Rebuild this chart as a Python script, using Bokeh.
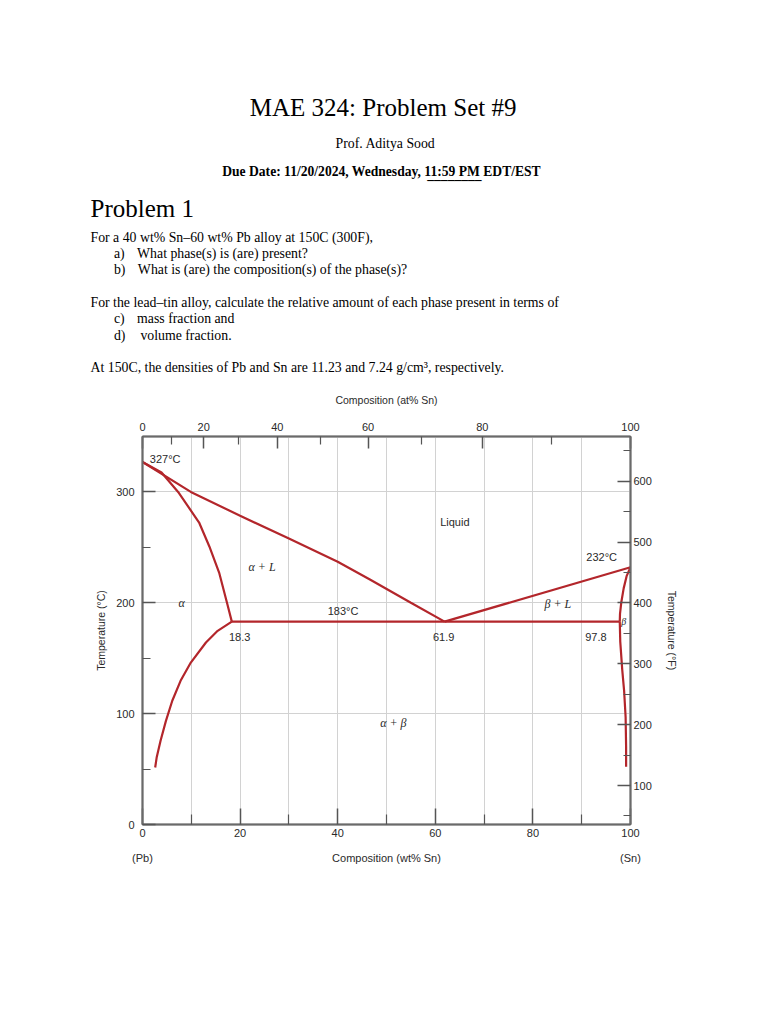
from bokeh.plotting import figure
from bokeh.models import Range1d, LinearAxis, FixedTicker, CustomJSTickFormatter, Title
from bokeh.embed import file_html
from bokeh.resources import INLINE
from bokeh.core.properties import value

# ---------------- data (Pb–Sn phase diagram, wt% Sn vs temperature °C) ----------------
liquidus_left_wt = [0, 9.9, 20, 30, 40, 46.6, 55, 61.9]
liquidus_left_T = [327, 300, 278.5, 258, 237, 221, 200, 183]

solidus_alpha_wt = [0, 3.9, 7.3, 11.6, 13.7, 15.7, 17.3, 18.3]
solidus_alpha_T = [327, 317.5, 300, 272.4, 250.8, 227.3, 200.3, 183]

solvus_alpha_wt = [18.3, 15.4, 13.0, 9.9, 7.8, 6.1, 4.8, 3.7, 2.9, 2.6]
solvus_alpha_T = [183, 174.7, 164.2, 146.1, 129.6, 111.6, 93.5, 75.5, 60.4, 51.4]

liquidus_right_wt = [61.9, 100]
liquidus_right_T = [183, 232]

solidus_beta_wt = [100, 99.2, 98.6, 98.1, 97.85, 97.8]
solidus_beta_T = [232, 224, 213, 200, 190, 183]

solvus_beta_wt = [97.8, 97.9, 98.3, 98.7, 99.0, 99.1, 99.1]
solvus_beta_T = [183, 165, 140, 120, 97, 70, 52]

eutectic_wt = [18.3, 61.9, 97.8]
eutectic_T = 183

wt_ticks = [0, 20, 40, 60, 80, 100]
wt_minor = [10, 30, 50, 70, 90]
c_ticks = [0, 100, 200, 300]
c_minor = [50, 150, 250]
f_ticks = [100, 200, 300, 400, 500, 600]
f_minor = [50, 150, 250, 350, 450, 550, 650]
at_ticks = [0, 20, 40, 60, 80, 100]
at_minor = [10, 30, 50, 70, 90]
M_SN = 118.71
M_PB = 207.2


def at_to_wt(a):
    return 100.0 * a * M_SN / (a * M_SN + (100.0 - a) * M_PB)


CURVE = "#b3262b"
AXIS = "#6a6a6a"
TXT = "#2a2a2a"
SANS = "Liberation Sans"
SERIF = "Liberation Serif"

# ---------------- figure geometry ----------------
W, H = 768, 900
FL, FR, FT, FB = 142, 630, 436, 824          # frame edges in page pixels

p = figure(width=W, height=H, x_range=Range1d(0, 100), y_range=Range1d(0, 350),
           toolbar_location=None, output_backend="svg",
           min_border_left=FL, min_border_right=W - FR, min_border_top=FT,
           min_border_bottom=H - FB)
p.background_fill_color = "white"
p.border_fill_color = "white"
p.outline_line_color = AXIS
p.outline_line_width = 1.5
p.extra_y_ranges = {"F": Range1d(36, 673.5)}

p.xgrid.ticker = FixedTicker(ticks=[10, 20, 30, 40, 50, 60, 70, 80, 90])
p.ygrid.ticker = FixedTicker(ticks=[100, 200, 300])
p.grid.grid_line_color = "#d2d2d2"
p.grid.grid_line_width = 1


# ---------------- axes ----------------
def style_axis(ax, tin, mtin, standoff, size="11px"):
    ax.axis_line_color = AXIS
    ax.axis_line_width = 2
    ax.major_tick_line_color = "#555555"
    ax.minor_tick_line_color = "#555555"
    ax.major_tick_line_width = 1.5
    ax.minor_tick_line_width = 1.2
    ax.major_tick_in = tin
    ax.major_tick_out = 0
    ax.minor_tick_in = mtin
    ax.minor_tick_out = 0
    ax.major_label_standoff = standoff
    ax.major_label_text_font = SANS
    ax.major_label_text_font_size = size
    ax.major_label_text_color = TXT
    ax.axis_label_text_font = SANS
    ax.axis_label_text_font_size = "10.5px"
    ax.axis_label_text_font_style = "normal"
    ax.axis_label_text_color = TXT


xb = p.xaxis[0]
xb.ticker = FixedTicker(ticks=wt_ticks, minor_ticks=wt_minor)
style_axis(xb, 16, 10, 4)

xb2 = LinearAxis(ticker=FixedTicker(ticks=[0, 50, 100]))
style_axis(xb2, 0, 0, 12)
xb2.axis_line_color = None
xb2.major_tick_line_color = None
xb2.minor_tick_line_color = None
xb2.major_label_overrides = {0: "(Pb)", 50: "Composition (wt% Sn)", 100: "(Sn)"}
p.add_layout(xb2, "below")

xt = LinearAxis(ticker=FixedTicker(ticks=[at_to_wt(a) for a in at_ticks],
                                   minor_ticks=[at_to_wt(a) for a in at_minor]),
                formatter=CustomJSTickFormatter(code="""
                    const a = tick / 118.71, b = (100 - tick) / 207.2;
                    return String(Math.round(100 * a / (a + b)));
                """),
                axis_label="Composition (at% Sn)")
style_axis(xt, 12, 8, 6)
xt.axis_label_standoff = 14
p.add_layout(xt, "above")

yl = p.yaxis[0]
yl.ticker = FixedTicker(ticks=c_ticks, minor_ticks=c_minor)
yl.axis_label = "Temperature (\u00b0C)"
style_axis(yl, 13, 8, 8)
yl.axis_label_standoff = 6

yr = LinearAxis(y_range_name="F", ticker=FixedTicker(ticks=f_ticks, minor_ticks=f_minor),
                axis_label="Temperature (\u00b0F)")
style_axis(yr, 13, 7, 3)
yr.axis_label_standoff = 11
p.add_layout(yr, "right")

# ---------------- document text, stacked above the diagram ----------------
BODY = "13.8px"
EM, EN, THIN, HAIR = "\u2003", "\u2002", "\u2009", "\u200a"
IND = EM + EN + THIN
GAP = EN + THIN + THIN
body_lines = [
    "For a 40 wt% Sn\u201360 wt% Pb alloy at 150C (300F),",
    IND + "a)" + GAP + "What phase(s) is (are) present?",
    IND + "b)" + GAP + "What is (are) the composition(s) of the phase(s)?",
    "\u00a0",
    "For the lead\u2013tin alloy, calculate the relative amount of each phase present in terms of",
    IND + "c)" + GAP + "mass fraction and",
    IND + "d)" + EN + EN + HAIR + "volume fraction.",
    "\u00a0",
    "At 150C, the densities of Pb and Sn are 11.23 and 7.24 g/cm\u00b3, respectively.",
]
due_text = ("Due Date: 11/20/2024, Wednesday, 11:59 PM EDT/EST\n"
            + EM * 15 + HAIR + "_" * 8)


def title(text, size, standoff, align="left", offset=0.0, style="normal",
          line_height=1.2):
    t = Title(text=text, align=align, offset=offset, standoff=standoff,
              vertical_align="middle", text_font=SERIF, text_font_size=size,
              text_font_style=style, text_color="black", text_line_height=line_height)
    p.add_layout(t, "above")


# added from the diagram upward
title("\u00a0", "1px", 11)                                             # spacer
title("\n".join(body_lines), BODY, 0, offset=90 - FL, line_height=1.09)
title("Problem 1", "25px", 12, offset=90 - FL)
title(due_text, "13.6px", 10, offset=221.7 - FL, style="bold", line_height=0.15)
title("Prof. Aditya Sood", BODY, 13, offset=335 - FL)
title("MAE 324: Problem Set #9", "25px", 13, offset=249.3 - FL)

# ---------------- curves ----------------
lw = 2.2
p.line(liquidus_left_wt, liquidus_left_T, line_color=CURVE, line_width=lw)
p.line(solidus_alpha_wt, solidus_alpha_T, line_color=CURVE, line_width=lw)
p.line(solvus_alpha_wt, solvus_alpha_T, line_color=CURVE, line_width=lw)
p.line(liquidus_right_wt, liquidus_right_T, line_color=CURVE, line_width=lw)
p.line(solidus_beta_wt, solidus_beta_T, line_color=CURVE, line_width=lw)
p.line(solvus_beta_wt, solvus_beta_T, line_color=CURVE, line_width=lw)
p.line([eutectic_wt[0], eutectic_wt[-1]], [eutectic_T, eutectic_T], line_color=CURVE, line_width=lw)


# ---------------- labels inside the diagram ----------------
def lab(x, y, s, size="11px", align="center", font=SANS, style="normal"):
    p.text(x=[x], y=[y], text=[s], text_font=value(font), text_font_size=size,
           text_font_style=style, text_align=align, text_baseline="middle", text_color=TXT)


lab(1.5, 330, "327\u00b0C", align="left")
lab(64, 272.5, "Liquid")
lab(94.1, 241.5, "232\u00b0C")
lab(41.1, 192.8, "183\u00b0C")
lab(19.9, 169, "18.3")
lab(61.7, 169, "61.9")
lab(92.9, 169, "97.8")
lab(24.5, 232.5, "\u03b1 + L", size="12px", font=SERIF, style="italic")
lab(8.0, 199.5, "\u03b1", size="12px", font=SERIF, style="italic")
lab(85.1, 199, "\u03b2 + L", size="12px", font=SERIF, style="italic")
lab(98.6, 183.5, "\u03b2", size="10px", font=SERIF, style="italic")
lab(51.4, 92, "\u03b1 + \u03b2", size="12px", font=SERIF, style="italic")

open("out.html", "w").write(file_html(p, INLINE, title="MAE 324: Problem Set #9"))
